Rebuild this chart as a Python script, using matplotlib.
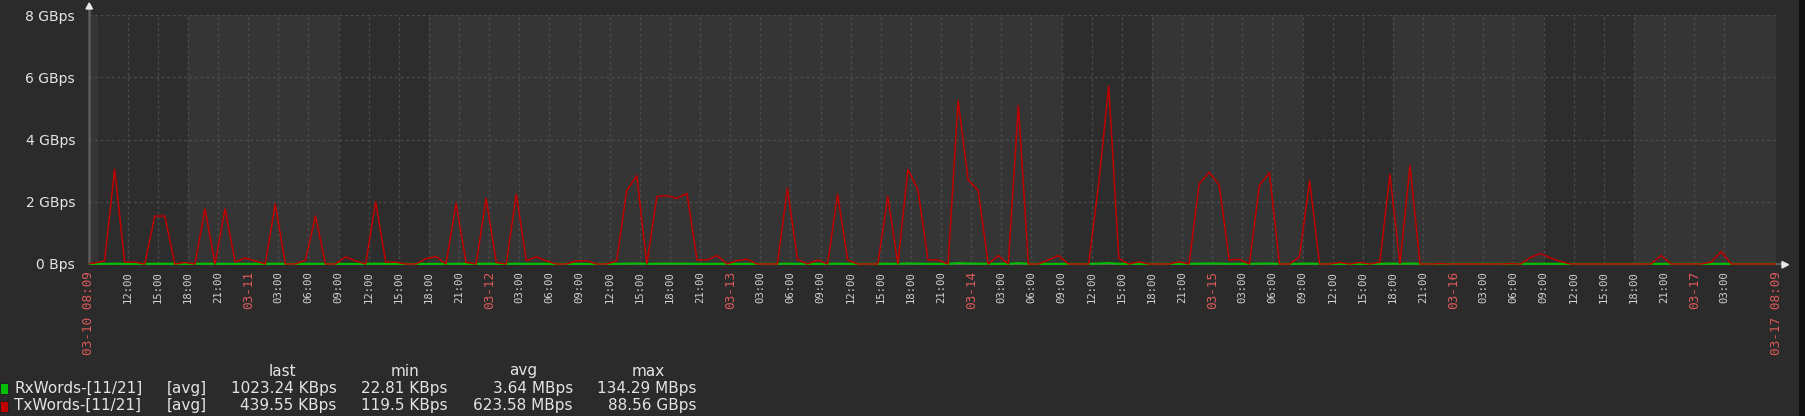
import matplotlib
matplotlib.use('Agg')
import matplotlib.pyplot as plt
import pandas as pd
from matplotlib.patches import Rectangle, Polygon

# ---------------- data ----------------
sample_start = '2022-03-10 07:42'   # hourly samples
x_start = pd.Timestamp('2022-03-10 08:09')
x_end = pd.Timestamp('2022-03-17 08:09')

tx_gbps = [
    0, 0.03, 0.1, 3.04, 0.06, 0.06, 0, 1.54, 1.54, 0,
    0.05, 0, 1.77, 0, 1.77, 0.06, 0.19, 0.1, 0, 1.93,
    0, 0, 0.12, 1.54, 0, 0, 0.23, 0.1, 0, 2.0,
    0.06, 0.06, 0, 0, 0.17, 0.24, 0, 1.95, 0.05, 0,
    2.11, 0.05, 0, 2.24, 0.1, 0.23, 0.1, 0, 0, 0.1,
    0.1, 0, 0, 0.1, 2.36, 2.84, 0, 2.17, 2.19, 2.11,
    2.27, 0.13, 0.13, 0.27, 0, 0.11, 0.15, 0, 0, 0,
    2.43, 0.15, 0, 0.13, 0, 2.24, 0.13, 0, 0, 0,
    2.17, 0, 3.04, 2.38, 0.13, 0.13, 0, 5.25, 2.7, 2.36,
    0, 0.27, 0, 5.09, 0, 0, 0.13, 0.27, 0, 0,
    0, 2.59, 5.72, 0.18, 0, 0.07, 0, 0, 0, 0.07,
    0, 2.57, 2.95, 2.54, 0.13, 0.15, 0, 2.52, 2.94, 0,
    0, 0.23, 2.68, 0, 0, 0.05, 0, 0.05, 0, 0.06,
    2.88, 0, 3.16, 0, 0, 0.01, 0, 0, 0, 0,
    0, 0, 0.01, 0, 0.21, 0.34, 0.19, 0.08, 0, 0,
    0, 0, 0, 0, 0, 0, 0, 0.27, 0, 0,
    0, 0, 0.06, 0.4, 0, 0, 0, 0, 0, 0,
]

rx_gbps = [
    0.004, 0.005, 0.006, 0.012, 0.005, 0.004, 0.003, 0.008, 0.009, 0.004,
    0.004, 0.003, 0.010, 0.003, 0.009, 0.004, 0.005, 0.004, 0.003, 0.011,
    0.003, 0.003, 0.004, 0.008, 0.003, 0.003, 0.006, 0.004, 0.003, 0.012,
    0.004, 0.004, 0.003, 0.003, 0.005, 0.006, 0.003, 0.010, 0.004, 0.003,
    0.011, 0.004, 0.003, 0.012, 0.004, 0.006, 0.004, 0.003, 0.003, 0.004,
    0.004, 0.003, 0.003, 0.004, 0.013, 0.015, 0.003, 0.012, 0.012, 0.011,
    0.012, 0.004, 0.004, 0.006, 0.003, 0.004, 0.005, 0.003, 0.003, 0.003,
    0.013, 0.005, 0.003, 0.004, 0.003, 0.012, 0.004, 0.003, 0.003, 0.003,
    0.011, 0.003, 0.016, 0.013, 0.004, 0.004, 0.003, 0.028, 0.014, 0.012,
    0.003, 0.006, 0.003, 0.027, 0.003, 0.003, 0.004, 0.006, 0.003, 0.003,
    0.003, 0.014, 0.031, 0.005, 0.003, 0.004, 0.003, 0.003, 0.003, 0.004,
    0.003, 0.014, 0.016, 0.014, 0.004, 0.005, 0.003, 0.013, 0.016, 0.003,
    0.003, 0.006, 0.015, 0.003, 0.003, 0.004, 0.003, 0.004, 0.003, 0.004,
    0.016, 0.003, 0.017, 0.003, 0.003, 0.004, 0.003, 0.003, 0.003, 0.003,
    0.003, 0.004, 0.003, 0.003, 0.006, 0.008, 0.006, 0.004, 0.003, 0.003,
    0.003, 0.003, 0.003, 0.003, 0.003, 0.003, 0.004, 0.006, 0.003, 0.003,
    0.003, 0.003, 0.004, 0.007, 0.003, 0.003, 0.004, 0.003, 0.003, 0.003,
]

work_periods = [
    ('2022-03-10 09:00', '2022-03-10 18:00'),
    ('2022-03-11 09:00', '2022-03-11 18:00'),
    ('2022-03-14 09:00', '2022-03-14 18:00'),
    ('2022-03-15 09:00', '2022-03-15 18:00'),
    ('2022-03-16 09:00', '2022-03-16 18:00'),
]

y_ticks = [0, 2, 4, 6, 8]
y_tick_labels = ['0 Bps', '2 GBps', '4 GBps', '6 GBps', '8 GBps']

inner_ticks = list(pd.date_range('2022-03-10 12:00', '2022-03-17 03:00', freq='3h'))
x_ticks = [x_start] + inner_ticks + [x_end]
x_tick_labels = (['03-10 08:09']
                 + [t.strftime('%m-%d') if t.hour == 0 else t.strftime('%H:%M') for t in inner_ticks]
                 + ['03-17 08:09'])
x_tick_is_date = [True] + [t.hour == 0 for t in inner_ticks] + [True]

legend_names = ['RxWords-[11/21]', 'TxWords-[11/21]']
legend_func = ['[avg]', '[avg]']
legend_headers = ['last', 'min', 'avg', 'max']
legend_last = ['1023.24 KBps', '439.55 KBps']
legend_min = ['22.81 KBps', '119.5 KBps']
legend_avg = ['3.64 MBps', '623.58 MBps']
legend_max = ['134.29 MBps', '88.56 GBps']
series_colors = ['#00c000', '#c00000']

# ---------------- drawing ----------------
W, H = 1806, 416
BG = '#2b2b2b'
TXT = '#e4e4e4'
GRID = '#4b4b4b'
AXLINE = '#5c5c5c'


def fx(x):
    return x / W


def fy(y):
    return 1 - y / H


fig = plt.figure(figsize=(W / 100, H / 100), dpi=100, facecolor=BG)
L, R, T, B = 89, 1776, 15, 264
ax = fig.add_axes([fx(L), fy(B), (R - L) / W, (B - T) / H])
ax.set_facecolor('#353535')
for s in ax.spines.values():
    s.set_visible(False)

for s, e in work_periods:
    ax.axvspan(pd.Timestamp(s), pd.Timestamp(e), color='#2d2d2d', lw=0, zorder=0)

ax.set_xlim(x_start, x_end)
ax.set_ylim(0, 8)

for v in y_ticks[1:]:
    ax.axhline(v, color=GRID, lw=1, ls=(0, (2, 2)), zorder=1)
for t in x_ticks[1:]:
    ax.axvline(t, color=GRID, lw=1, ls=(0, (2, 2)), zorder=1)

# axis lines
ax.plot([0, (1784 - L) / (R - L)], [0, 0], transform=ax.transAxes, clip_on=False,
        color=AXLINE, lw=1.5, zorder=2, solid_capstyle='butt')
ax.plot([0, 0], [0, (B - 8) / (B - T)], transform=ax.transAxes, clip_on=False,
        color=AXLINE, lw=1.8, zorder=2, solid_capstyle='butt')

times = pd.date_range(sample_start, periods=len(tx_gbps), freq='h')
clip = Rectangle((0, -0.05), 1, 1.1, transform=ax.transAxes, visible=False)
ax.add_patch(clip)
l1, = ax.plot(times, rx_gbps, color=series_colors[0], lw=1.5, zorder=3)
l2, = ax.plot(times, tx_gbps, color=series_colors[1], lw=1.1, zorder=4)
for ln in (l1, l2):
    ln.set_clip_path(clip)

# arrows
fig.add_artist(Polygon([(fx(86), fy(9)), (fx(92.5), fy(9)), (fx(89.2), fy(3))],
                       closed=True, color='#e8e8e8', transform=fig.transFigure))
fig.add_artist(Polygon([(fx(1782), fy(261.5)), (fx(1782), fy(268)), (fx(1788.5), fy(264.7))],
                       closed=True, color='#e8e8e8', transform=fig.transFigure))

# ticks
ax.set_yticks(y_ticks)
ax.set_yticklabels(y_tick_labels)
ax.tick_params(axis='y', length=0, pad=10, labelsize=10, colors=TXT)

ax.set_xticks(x_ticks)
ax.set_xticklabels(x_tick_labels, rotation=90, va='top', ha='center',
                   fontfamily='DejaVu Sans Mono')
ax.tick_params(axis='x', length=0, pad=5)
for lab, is_date in zip(ax.get_xticklabels(), x_tick_is_date):
    if is_date:
        lab.set_color('#de5a5a')
        lab.set_fontsize(9.2)
    else:
        lab.set_color('#d4d4d4')
        lab.set_fontsize(7.6)

# legend
fs = 11
header_x = [282.6, 404.7, 523.5, 648]
for hx, htxt in zip(header_x, legend_headers):
    fig.text(fx(hx), fy(371), htxt, ha='center', va='center', color=TXT, fontsize=fs)

row_y = [388.3, 405.7]
sq_y = [(383, 394), (400.5, 411.7)]
for i in range(2):
    y0, y1 = sq_y[i]
    fig.add_artist(Rectangle((fx(0), fy(y1)), 7.5 / W, (y1 - y0) / H, transform=fig.transFigure,
                             facecolor=series_colors[i], edgecolor='#1e1e1e', lw=0.6))
    yy = fy(row_y[i])
    fig.text(fx(14.5), yy, legend_names[i], ha='left', va='center', color=TXT, fontsize=fs)
    fig.text(fx(167), yy, legend_func[i], ha='left', va='center', color=TXT, fontsize=fs)
    fig.text(fx(336.5), yy, legend_last[i], ha='right', va='center', color=TXT, fontsize=fs)
    fig.text(fx(448), yy, legend_min[i], ha='right', va='center', color=TXT, fontsize=fs)
    fig.text(fx(572.9), yy, legend_avg[i], ha='right', va='center', color=TXT, fontsize=fs)
    fig.text(fx(697), yy, legend_max[i], ha='right', va='center', color=TXT, fontsize=fs)

# dark strip at right edge
fig.add_artist(Rectangle((fx(1799), 0), 7 / W, 1, transform=fig.transFigure,
                         facecolor='#101010', edgecolor='none'))

fig.savefig('out.png', dpi=100, facecolor=BG)
